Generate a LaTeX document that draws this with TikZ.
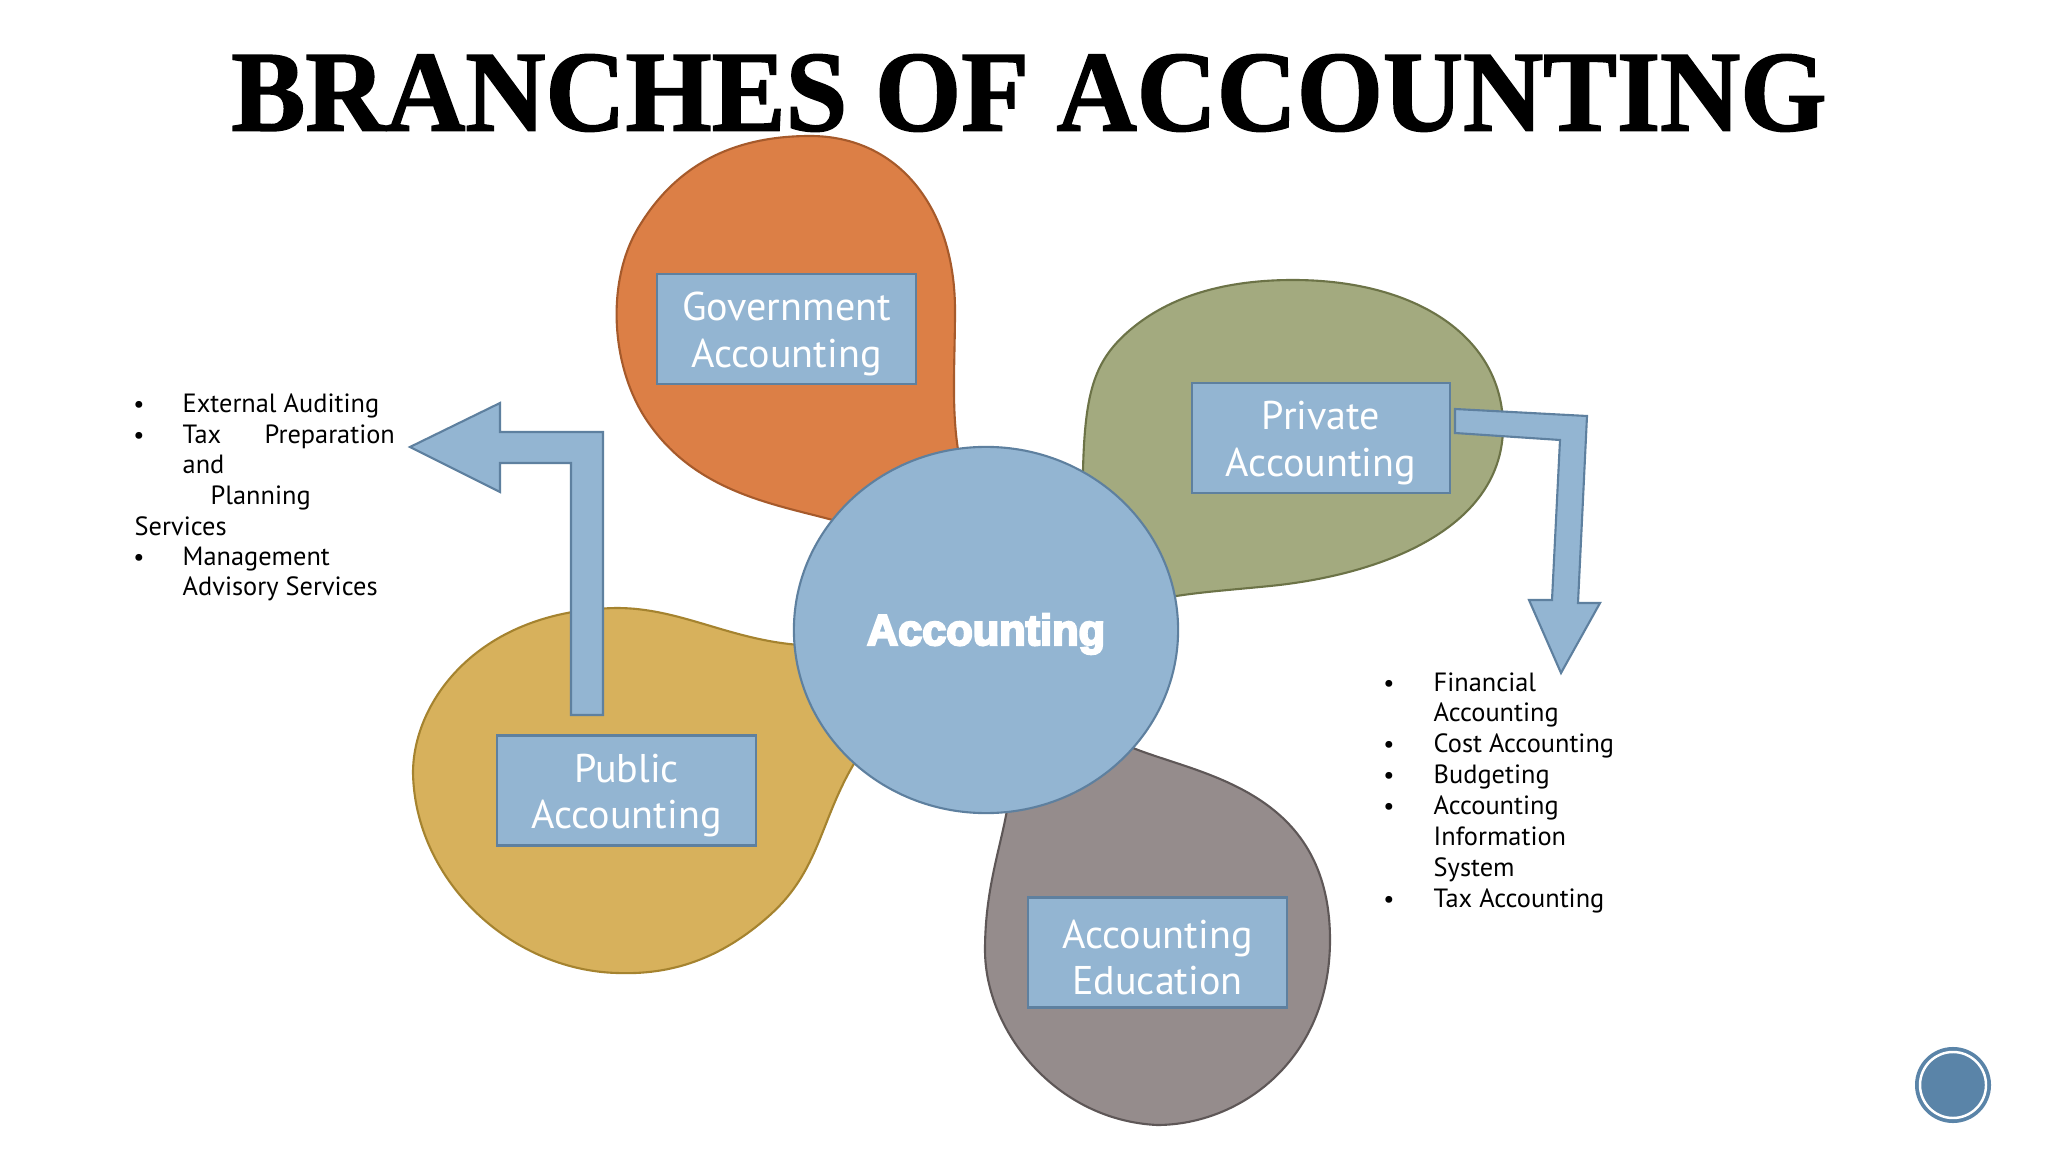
\documentclass[tikz,border=0pt]{standalone}
\usepackage{fontspec}
\usepackage{graphicx}
\usetikzlibrary{shapes.geometric}
\setmainfont{PT Sans}
\newfontfamily\titlefont[FakeBold=1.5]{Liberation Serif Bold}
\newfontfamily\heavyfont[FakeBold=5]{Liberation Sans Bold}
\newfontfamily\boxfont{PT Sans}
\definecolor{cblue}{HTML}{93B5D2}
\definecolor{cblueline}{HTML}{5E809F}
\definecolor{corange}{HTML}{DC7F46}
\definecolor{corangeline}{HTML}{A65A2B}
\definecolor{cgreen}{HTML}{A3AA7F}
\definecolor{cgreenline}{HTML}{6C7347}
\definecolor{cyellow}{HTML}{D7B15C}
\definecolor{cyellowline}{HTML}{A5832F}
\definecolor{cgray}{HTML}{958C8C}
\definecolor{cgrayline}{HTML}{5E5757}
\definecolor{clogo}{HTML}{5A84A8}
\tikzset{
  blob/.style={line width=0.6pt},
  labelbox/.style={draw=cblueline, fill=cblue, line width=0.6pt, minimum width=2.58cm, minimum height=1.10cm, inner sep=0pt},
  labeltext/.style={inner sep=0pt, align=center, text=white, yshift=-0.05cm, font=\boxfont\fontsize{11.4}{13.3}\selectfont},
  blockarrow/.style={draw=cblueline, fill=cblue, line width=0.6pt, line join=miter},
  listtext/.style={anchor=base west, inner sep=0pt, font=\fontsize{7.5}{9}\selectfont},
  bulletmark/.style={anchor=base, inner sep=0pt, font=\fontsize{7}{9}\selectfont}
}
\begin{document}
\begin{tikzpicture}[x=0.01cm, y=-0.01cm]
\useasboundingbox (0,0) rectangle (2048,1152);
\fill[white] (0,0) rectangle (2048,1152);

% title
\node[inner sep=0pt] (title) at (1029,93) {\resizebox{15.94cm}{0.76cm}{\titlefont BRANCHES OF ACCOUNTING}};

% blobs
\draw[blob, fill=corange, draw=corangeline]
  (810,136) .. controls (900,136) and (955,210) .. (955,310)
  .. controls (955,370) and (950,420) .. (962,470)
  -- (990,560) -- (840,522)
  .. controls (780,505) and (700,495) .. (650,425)
  .. controls (610,370) and (605,280) .. (640,225)
  .. controls (680,160) and (740,136) .. (810,136) -- cycle;
\draw[blob, fill=cgreen, draw=cgreenline]
  (1293,280) .. controls (1420,280) and (1505,340) .. (1503,430)
  .. controls (1500,530) and (1380,575) .. (1270,586)
  .. controls (1230,590) and (1200,592) .. (1170,597)
  -- (1110,600) -- (1080,500) -- (1083,470)
  .. controls (1085,390) and (1095,360) .. (1130,330)
  .. controls (1170,296) and (1225,280) .. (1293,280) -- cycle;
\draw[blob, fill=cyellow, draw=cyellowline]
  (855,762) .. controls (820,820) and (820,870) .. (770,915)
  .. controls (720,960) and (670,975) .. (617,973)
  .. controls (510,970) and (415,880) .. (413,773)
  .. controls (413,700) and (480,610) .. (617,608)
  .. controls (680,608) and (730,640) .. (800,645)
  -- (880,700) -- cycle;
\draw[blob, fill=cgray, draw=cgrayline]
  (1133,748) .. controls (1200,775) and (1330,790) .. (1330,940)
  .. controls (1330,1060) and (1240,1125) .. (1157,1125)
  .. controls (1055,1120) and (985,1030) .. (985,950)
  .. controls (985,890) and (1000,850) .. (1007,810)
  -- (1060,760) -- cycle;

% central circle
\node[ellipse, draw=cblueline, fill=cblue, line width=0.6pt, minimum width=3.84cm, minimum height=3.66cm, inner sep=0pt] (core) at (986,630) {};
\node[text=white, inner sep=0pt, yshift=-0.04cm] (coretext) at (core.center) {\resizebox{2.38cm}{!}{\heavyfont Accounting}};

% label boxes
\node[labelbox] (gov) at (786.5,329) {};
\node[labeltext] (govtext) at (gov.center) {Government\\Accounting};
\node[labelbox] (priv) at (1321,438) {};
\node[labeltext] (privtext) at (priv.center) {Private\\Accounting};
\node[labelbox] (pub) at (626.5,790.5) {};
\node[labeltext] (pubtext) at (pub.center) {Public\\Accounting};
\node[labelbox] (edu) at (1157.5,952.5) {};
\node[labeltext] (edutext) at (edu.center) {Accounting\\Education};

% block arrows
\coordinate (ltip) at (410,447);
\coordinate (rtip) at (1561,673);
\draw[blockarrow] (571,715) -- (571,463) -- (500,463) -- (500,492) -- (ltip) -- (500,403) -- (500,432) -- (603,432) -- (603,715) -- cycle;
\draw[blockarrow] (1455,409) -- (1587,416) -- (1578,603) -- (1600,603) -- (rtip) -- (1529,600) -- (1552,600) -- (1560,440) -- (1455,433) -- cycle;

% left list
\node[bulletmark] (lb1) at (139,413) {•};
\node[listtext] (l1) at (182,413) {External Auditing};
\node[bulletmark] (lb2) at (139,443.5) {•};
\node[listtext] (l2a) at (182,443.5) {Tax};
\node[listtext] (l2b) at (264,443.5) {Preparation};
\node[listtext] (l3) at (182,474) {and};
\node[listtext] (l4) at (210,504.5) {Planning};
\node[listtext] (l5) at (134,535) {Services};
\node[bulletmark] (lb3) at (139,565.5) {•};
\node[listtext] (l6) at (182,565.5) {Management};
\node[listtext] (l7) at (182,596) {Advisory Services};

% right list
\node[bulletmark] (rb1) at (1389,691) {•};
\node[listtext] (r1) at (1433,691) {Financial};
\node[listtext] (r2) at (1433,721.9) {Accounting};
\node[bulletmark] (rb2) at (1389,752.7) {•};
\node[listtext] (r3) at (1433,752.7) {Cost Accounting};
\node[bulletmark] (rb3) at (1389,783.6) {•};
\node[listtext] (r4) at (1433,783.6) {Budgeting};
\node[bulletmark] (rb4) at (1389,814.4) {•};
\node[listtext] (r5) at (1433,814.4) {Accounting};
\node[listtext] (r6) at (1433,845.3) {Information};
\node[listtext] (r7) at (1433,876.1) {System};
\node[bulletmark] (rb5) at (1389,907) {•};
\node[listtext] (r8) at (1433,907) {Tax Accounting};

% logo
\node[circle, fill=clogo, minimum size=0.76cm, inner sep=0pt] (logo) at (1953,1085) {};
\draw[white, line width=0.7pt] (logo.center) circle[radius=33];
\end{tikzpicture}
\end{document}
